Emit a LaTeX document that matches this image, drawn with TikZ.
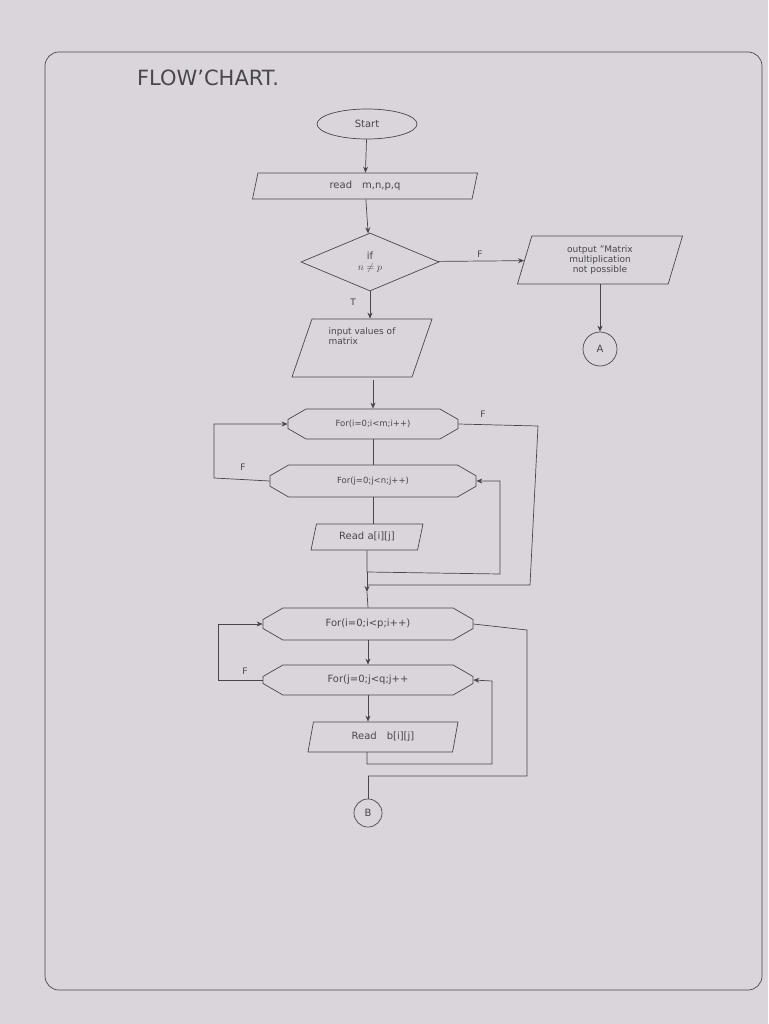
\documentclass[tikz,border=0pt]{standalone}
\usepackage{fontspec}
\setmainfont{DejaVu Sans}
\usetikzlibrary{shapes.geometric,shapes.misc,arrows.meta}
\definecolor{paper}{HTML}{D9D5DB}
\definecolor{pencil}{HTML}{4A474C}
\begin{document}
\begin{tikzpicture}[x=1pt,y=-1pt,
  every node/.style={text=pencil,font=\fontsize{10}{11}\selectfont},
  ln/.style={draw=pencil,line width=0.7pt},
  arr/.style={ln,-{Stealth[length=6pt,width=5pt]}},
  io/.style={ln,trapezium,trapezium left angle=65,trapezium right angle=115,trapezium stretches body=true,inner sep=1pt,align=left},
  term/.style={ln,ellipse,inner sep=1pt},
  cond/.style={ln,diamond,aspect=2.4,inner sep=0pt,align=center},
  loopbox/.style={ln,chamfered rectangle,chamfered rectangle xsep=14pt,chamfered rectangle angle=60,inner sep=3pt},
  conn/.style={ln,circle,inner sep=1pt},
  lbl/.style={font=\fontsize{9}{10}\selectfont}]
\fill[paper] (0,0) rectangle (768,1024);
\useasboundingbox (0,0) rectangle (768,1024);
\draw[ln,rounded corners=14pt] (45,52) rectangle (762,990);
\node[font=\fontsize{21}{23}\selectfont] (title) at (208,78) {FLOW'CHART.};
\node[term,minimum width=100pt,minimum height=30pt] (start) at (367,124) {Start};
\node[io,minimum width=225pt,minimum height=26pt] (read) at (365,186) {read\quad m,n,p,q};
\node[cond,minimum width=138pt,minimum height=58pt] (if) at (370,262) {if\\ $n\neq p$};
\node[io,minimum width=165pt,minimum height=48pt,align=center,font=\fontsize{9}{10}\selectfont] (out) at (600,260) {output "Matrix\\ multiplication\\ not possible};
\node[conn,minimum size=34pt] (A) at (600,349) {A};
\node[io,minimum width=140pt,minimum height=58pt,font=\fontsize{9}{10}\selectfont] (inp) at (362,348) {input values of\\ matrix\\[14pt]};
\node[loopbox,minimum width=170pt,minimum height=30pt,font=\fontsize{8.5}{10}\selectfont] (f1) at (373,424) {For(i=0;i<m;i++)};
\node[loopbox,minimum width=206pt,minimum height=32pt,font=\fontsize{8.5}{10}\selectfont] (f2) at (373,481) {For(j=0;j<n;j++)};
\node[io,minimum width=112pt,minimum height=26pt] (ra) at (367,537) {Read a[i][j]};
\node[loopbox,minimum width=210pt,minimum height=32pt] (f3) at (368,624) {For(i=0;i<p;i++)};
\node[loopbox,minimum width=210pt,minimum height=30pt] (f4) at (368,680) {For(j=0;j<q;j++};
\node[io,minimum width=150pt,minimum height=30pt] (rb) at (383,737) {Read\quad b[i][j]};
\node[conn,minimum size=28pt] (B) at (368,813) {B};
\coordinate (j1) at (367,592);
\coordinate (j2) at (368,776);
\coordinate (i0) at (373,380);
% labels
\node[lbl] (lF1) at (480,254) {F};
\node[lbl] (lT) at (353,302) {T};
\node[lbl] (lF2) at (483,414) {F};
\node[lbl] (lF3) at (243,467) {F};
\node[lbl] (lF4) at (245,671) {F};
% connectors
\draw[arr] (start) -- (read);
\draw[arr] (read) -- (if);
\draw[arr] (if) -- (out);
\draw[arr] (out.south -| A) -- (A);
\draw[arr] (if) -- (if |- inp.north);
\draw[arr] (i0) -- (f1.north);
\draw[ln] (f1.south) -- (f1.south |- f2.north);
\draw[ln] (f2.south) -- (f2.south |- ra.north);
\draw[arr] (ra.south) -- (367,572) -- (500,574) -- (500,481) -- (f2.east);
\draw[arr] (f2.west) -- (214,478) -- (214,424) -- (f1.west);
\draw[ln] (f1.east) -- (538,426) -- (530,585) -- (367,585);
\draw[arr] (367,572) -- (j1);
\draw[ln] (j1) -- (f3.north);
\draw[arr] (f3.south) -- (f4.north);
\draw[arr] (f4.south) -- (f4.south |- rb.north);
\draw[arr] (367,752) -- (367,764) -- (492,764) -- (492,681) -- (f4.east);
\draw[arr] (f4.west) -- (218,680) -- (218,624) -- (f3.west);
\draw[ln] (f3.east) -- (527,630) -- (527,776) -- (j2);
\draw[ln] (j2) -- (B);
\end{tikzpicture}
\end{document}
